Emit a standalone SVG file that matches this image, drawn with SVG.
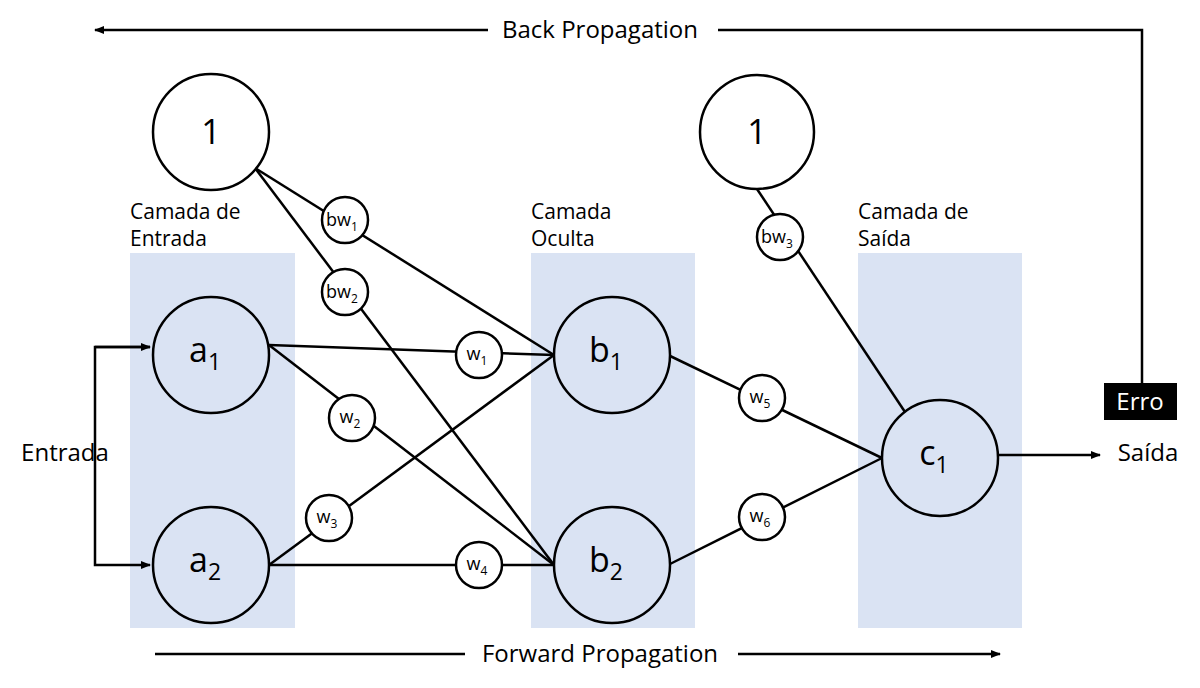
<svg xmlns="http://www.w3.org/2000/svg" width="1200" height="688" viewBox="0 0 1200 688">
<defs>
<marker id="ah" markerWidth="10" markerHeight="8" refX="9" refY="4" orient="auto" markerUnits="userSpaceOnUse"><path d="M0,0 L10,4 L0,8 z" fill="#000"/></marker>
<style>
.lay{fill:#dae3f3}
.big{fill:#dae3f3;stroke:#000;stroke-width:2.5}
.bias{fill:#fff;stroke:#000;stroke-width:2.5}
.sm{fill:#fff;stroke:#000;stroke-width:2.5}
.ln{stroke:#000;stroke-width:2.5;fill:none}
text{font-family:"Open Sans","Liberation Sans",sans-serif;fill:#000}
.t{font-size:24px}
.lt{font-size:21px}
.bt{font-size:34px;text-anchor:middle}
.st{font-size:18px;text-anchor:middle}
</style>
</defs>
<rect width="1200" height="688" fill="#fff"/>
<g id="layers">
<rect class="lay" x="130" y="253" width="165" height="375"/>
<rect class="lay" x="531" y="253" width="164" height="375"/>
<rect class="lay" x="858" y="253" width="164" height="375"/>
<text class="lt" x="130" y="219">Camada de</text><text class="lt" x="130" y="246">Entrada</text>
<text class="lt" x="531" y="219">Camada</text><text class="lt" x="531" y="246">Oculta</text>
<text class="lt" x="858" y="219">Camada de</text><text class="lt" x="858" y="246">Saída</text>
</g>
<g id="connectors">
<line class="ln" x1="255" y1="168" x2="554" y2="355"/>
<line class="ln" x1="255" y1="168" x2="554" y2="565"/>
<line class="ln" x1="269" y1="345" x2="554" y2="355"/>
<line class="ln" x1="269" y1="345" x2="554" y2="565"/>
<line class="ln" x1="269" y1="565" x2="554" y2="355"/>
<line class="ln" x1="269" y1="565" x2="554" y2="565"/>
<line class="ln" x1="668" y1="355" x2="882" y2="458"/>
<line class="ln" x1="668" y1="565" x2="882" y2="458"/>
<line class="ln" x1="757" y1="189" x2="905" y2="412"/>
<polyline class="ln" points="150,347 95,347 95,565 150,565" marker-end="url(#ah)"/>
<line class="ln" x1="95" y1="347" x2="150" y2="347" marker-end="url(#ah)"/>
<line class="ln" x1="998" y1="455" x2="1100" y2="455" marker-end="url(#ah)"/>
<polyline class="ln" points="1142,383 1142,30 718,30"/>
<line class="ln" x1="488" y1="30" x2="95" y2="30" marker-end="url(#ah)"/>
<line class="ln" x1="155" y1="654" x2="465" y2="654"/>
<line class="ln" x1="738" y1="654" x2="1000" y2="654" marker-end="url(#ah)"/>
</g>
<g id="bias1"><circle class="bias" cx="211" cy="132" r="58"/><text class="bt" x="211" y="144">1</text></g>
<g id="bias2"><circle class="bias" cx="757" cy="132" r="57"/><text class="bt" x="757" y="144">1</text></g>
<g id="a1"><circle class="big" cx="211" cy="355" r="58"/><text class="bt" x="205" y="362">a<tspan font-size="23" dy="8">1</tspan></text></g>
<g id="a2"><circle class="big" cx="211" cy="565" r="58"/><text class="bt" x="205" y="572">a<tspan font-size="23" dy="8">2</tspan></text></g>
<g id="b1"><circle class="big" cx="612" cy="355" r="58"/><text class="bt" x="606" y="362">b<tspan font-size="23" dy="8">1</tspan></text></g>
<g id="b2"><circle class="big" cx="612" cy="565" r="58"/><text class="bt" x="606" y="572">b<tspan font-size="23" dy="8">2</tspan></text></g>
<g id="c1"><circle class="big" cx="940" cy="458" r="58"/><text class="bt" x="934" y="465">c<tspan font-size="23" dy="8">1</tspan></text></g>
<g id="bw1"><circle class="sm" cx="345" cy="220" r="23"/><text class="st" x="342" y="226">bw<tspan font-size="12" dy="5">1</tspan></text></g>
<g id="bw2"><circle class="sm" cx="345" cy="292" r="23"/><text class="st" x="342" y="298">bw<tspan font-size="12" dy="5">2</tspan></text></g>
<g id="bw3"><circle class="sm" cx="780" cy="237" r="23"/><text class="st" x="777" y="243">bw<tspan font-size="12" dy="5">3</tspan></text></g>
<g id="w1"><circle class="sm" cx="479" cy="355" r="23"/><text class="st" x="477" y="360">w<tspan font-size="12" dy="5">1</tspan></text></g>
<g id="w2"><circle class="sm" cx="352" cy="418" r="23"/><text class="st" x="350" y="423">w<tspan font-size="12" dy="5">2</tspan></text></g>
<g id="w3"><circle class="sm" cx="329" cy="518" r="23"/><text class="st" x="327" y="523">w<tspan font-size="12" dy="5">3</tspan></text></g>
<g id="w4"><circle class="sm" cx="479" cy="565" r="23"/><text class="st" x="477" y="570">w<tspan font-size="12" dy="5">4</tspan></text></g>
<g id="w5"><circle class="sm" cx="762" cy="398" r="23"/><text class="st" x="760" y="403">w<tspan font-size="12" dy="5">5</tspan></text></g>
<g id="w6"><circle class="sm" cx="762" cy="517" r="23"/><text class="st" x="760" y="522">w<tspan font-size="12" dy="5">6</tspan></text></g>
<g id="erro"><rect x="1104" y="383" width="73" height="37" fill="#000"/><text class="t" x="1140" y="410" text-anchor="middle" style="fill:#fff">Erro</text></g>
<g id="labels">
<text class="t" x="65" y="461" text-anchor="middle">Entrada</text>
<text class="t" x="1148" y="461" text-anchor="middle">Saída</text>
<text class="t" x="600" y="38" text-anchor="middle">Back Propagation</text>
<text class="t" x="600" y="662" text-anchor="middle">Forward Propagation</text>
</g>
</svg>
